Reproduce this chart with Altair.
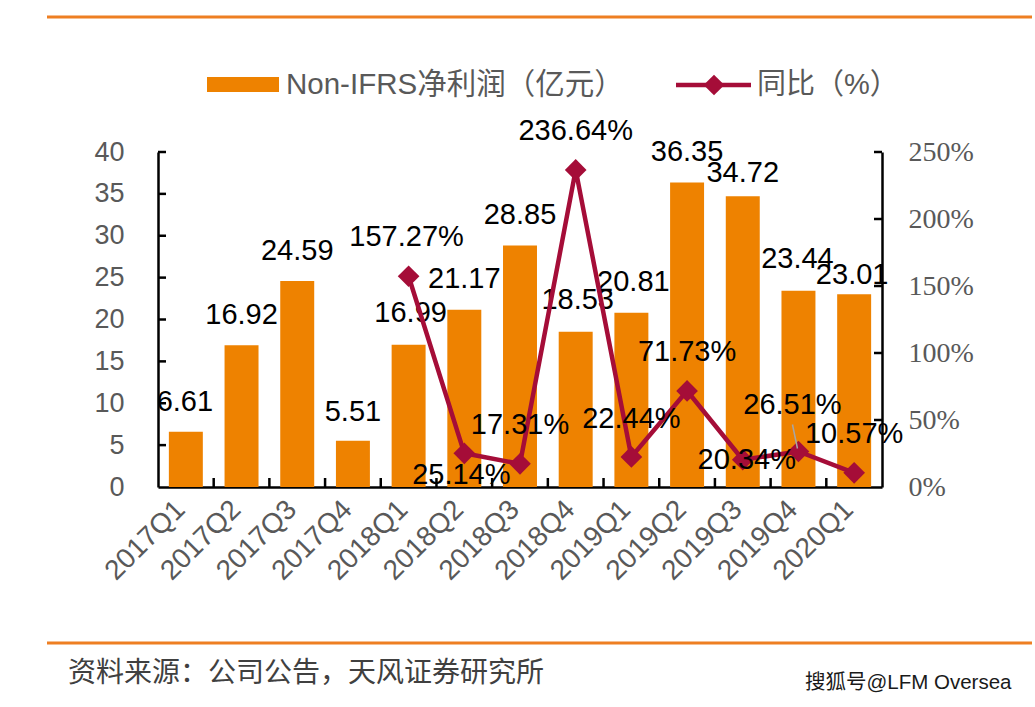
import altair as alt
import pandas as pd

# ---- data -------------------------------------------------------------
quarters = ["2017Q1", "2017Q2", "2017Q3", "2017Q4", "2018Q1", "2018Q2", "2018Q3",
            "2018Q4", "2019Q1", "2019Q2", "2019Q3", "2019Q4", "2020Q1"]
profit = [6.61, 16.92, 24.59, 5.51, 16.99, 21.17, 28.85, 18.53, 20.81, 36.35, 34.72, 23.44, 23.01]

yoy_quarters = ["2018Q1", "2018Q2", "2018Q3", "2018Q4", "2019Q1", "2019Q2", "2019Q3", "2019Q4", "2020Q1"]
yoy = [157.27, 25.14, 17.31, 236.64, 22.44, 71.73, 20.34, 26.51, 10.57]

left_ticks = [0, 5, 10, 15, 20, 25, 30, 35, 40]
right_ticks = [0, 50, 100, 150, 200, 250]

# label nudges in pixels (relative to bar top / line point)
bar_label_dx = [-1, 0, 0, 0, 2, 0, 0, 2, 2, 0, 0, -1, -2]
bar_label_dy = [-32, -32, -32, -31, -34, -33, -32, -34, -33, -33, -25, -34, -21]
yoy_label_dx = [-2, -3, 0, 0, 0, 0, 4, -6, 0]
yoy_label_dy = [-41, 20, -41, -41, -40, -41, -2, -48, -41]

# ---- styling ----------------------------------------------------------
ORANGE = "#EE8200"
RULE_ORANGE = "#EE7F22"
RED = "#A50D38"
GRAY = "#595959"
SANS = "Liberation Sans, Noto Sans CJK SC"
SERIF = "Liberation Serif, DejaVu Serif"

W, H = 724, 335
STEP = W / len(quarters)
PAD_IN = 0.39

bar_df = pd.DataFrame({"q": quarters, "profit": profit,
                       "label": [f"{v:.2f}" for v in profit]})
yoy_df = pd.DataFrame({"q": yoy_quarters, "yoy": yoy,
                       "label": [f"{v:.2f}%" for v in yoy]})
one = pd.DataFrame({"k": [0]})

x_scale = alt.Scale(domain=quarters, paddingInner=PAD_IN, paddingOuter=PAD_IN / 2)
left_scale = alt.Scale(domain=[0, 40], nice=False, zero=True)
right_scale = alt.Scale(domain=[0, 250], nice=False, zero=True)

x_axis = alt.Axis(title=None, labelAngle=-45, labelFont=SANS, labelFontSize=28,
                  labelColor=GRAY, domainColor="black", domainWidth=2.5,
                  labelAlign="right", labelBaseline="middle", labelOffset=-5,
                  ticks=False, labelPadding=18, grid=False)
left_axis = alt.Axis(title=None, values=left_ticks, grid=False, ticks=False,
                     labelFont=SANS, labelFontSize=27, labelColor=GRAY,
                     domainColor="black", domainWidth=2.5, labelPadding=34)
right_axis = alt.Axis(title=None, orient="right", values=right_ticks, grid=False,
                      ticks=False, labelFont=SERIF, labelFontSize=28,
                      labelColor=GRAY, labelExpr="datum.value + '%'",
                      domainColor="black", domainWidth=2.5, labelPadding=26)


def xq():
    return alt.X("q:N", scale=x_scale, sort=quarters, axis=x_axis)


def yl(field):
    return alt.Y(field, scale=left_scale, axis=left_axis)


def yr(field):
    return alt.Y(field, scale=right_scale, axis=right_axis)


# ---- left axis: profit bars -------------------------------------------
bars = alt.Chart(bar_df).mark_bar(color=ORANGE).encode(x=xq(), y=yl("profit:Q"))

bar_label_layers = [
    alt.Chart(bar_df).transform_filter(alt.datum.q == q).mark_text(
        font=SANS, fontSize=29, color="black", baseline="middle", align="center",
        dx=dx, dy=dy + 2,
    ).encode(x=xq(), y=yl("profit:Q"), text="label:N")
    for q, dx, dy in zip(quarters, bar_label_dx, bar_label_dy)
]

left_tick_marks = alt.Chart(pd.DataFrame({"v": left_ticks[1:]})).mark_rule(
    color="black", strokeWidth=2.5
).encode(y=yl("v:Q"), x=alt.value(0), x2=alt.value(8))

bottom_tick_marks = alt.Chart(pd.DataFrame({"q": quarters[1:]})).mark_rule(
    color="black", strokeWidth=2.5, xOffset=-STEP / 2
).encode(x=xq(), y=alt.value(H - 9), y2=alt.value(H))

left_layer = alt.layer(bars, *bar_label_layers, left_tick_marks, bottom_tick_marks)

# ---- right axis: year-on-year line ------------------------------------
line = alt.Chart(yoy_df).mark_line(color=RED, strokeWidth=4.5).encode(x=xq(), y=yr("yoy:Q"))

points = alt.Chart(yoy_df).mark_point(
    shape="diamond", filled=True, size=470, color=RED, opacity=1
).encode(x=xq(), y=yr("yoy:Q"))

yoy_label_layers = [
    alt.Chart(yoy_df).transform_filter(alt.datum.q == q).mark_text(
        font=SANS, fontSize=29, color="black", baseline="middle", align="center",
        dx=dx, dy=dy + 2,
    ).encode(x=xq(), y=yr("yoy:Q"), text="label:N")
    for q, dx, dy in zip(yoy_quarters, yoy_label_dx, yoy_label_dy)
]

right_tick_marks = alt.Chart(pd.DataFrame({"v": right_ticks[1:]})).mark_rule(
    color="black", strokeWidth=2.5
).encode(y=yr("v:Q"), x=alt.value(W - 8), x2=alt.value(W))

# short leader from the 2019Q4 label down to its marker
i_lead = yoy_quarters.index("2019Q4")
lead_x = STEP * (quarters.index("2019Q4") + 0.5)
lead_y = H - yoy[i_lead] / 250 * H
leader = alt.Chart(one).mark_rule(color="#A6A6A6", strokeWidth=1.5).encode(
    x=alt.value(lead_x - 6), x2=alt.value(lead_x - 1),
    y=alt.value(lead_y - 27), y2=alt.value(lead_y - 3),
)

right_layer = alt.layer(line, points, *yoy_label_layers, right_tick_marks, leader)

# ---- legend, frame rules and footer -----------------------------------
legend_bar = alt.Chart(one).mark_rect(color=ORANGE).encode(
    x=alt.value(49), x2=alt.value(121), y=alt.value(-75), y2=alt.value(-60))
legend_bar_text = alt.Chart(one).mark_text(
    font=SANS, fontSize=29.5, color=GRAY, align="left", baseline="middle"
).encode(x=alt.value(128), y=alt.value(-67), text=alt.value("Non-IFRS净利润（亿元）"))
legend_line = alt.Chart(one).mark_rule(color=RED, strokeWidth=4.5).encode(
    x=alt.value(518), x2=alt.value(593), y=alt.value(-67))
legend_diamond = alt.Chart(one).mark_point(
    shape="diamond", filled=True, size=430, color=RED, opacity=1
).encode(x=alt.value(556), y=alt.value(-67))
legend_line_text = alt.Chart(one).mark_text(
    font=SANS, fontSize=29, color=GRAY, align="left", baseline="middle"
).encode(x=alt.value(599), y=alt.value(-67), text=alt.value("同比（%）"))

top_rule = alt.Chart(one).mark_rule(color=RULE_ORANGE, strokeWidth=3).encode(
    x=alt.value(-111), x2=alt.value(874), y=alt.value(-135))
bottom_rule = alt.Chart(one).mark_rule(color=RULE_ORANGE, strokeWidth=3).encode(
    x=alt.value(-111), x2=alt.value(874), y=alt.value(491))

source = alt.Chart(one).mark_text(
    font="Noto Sans CJK SC", fontSize=28, color="#404040", align="left", baseline="middle"
).encode(x=alt.value(-90), y=alt.value(522), text=alt.value("资料来源：公司公告，天风证券研究所"))
watermark = alt.Chart(one).mark_text(
    font=SANS, fontSize=20.5, color="#1a1a1a", align="left", baseline="middle"
).encode(x=alt.value(647), y=alt.value(531), text=alt.value("搜狐号@LFM Oversea"))

decor = alt.layer(legend_bar, legend_bar_text, legend_line, legend_diamond,
                  legend_line_text, top_rule, bottom_rule, source, watermark)

chart = alt.layer(left_layer, right_layer, decor).resolve_scale(
    y="independent"
).properties(
    width=W, height=H,
    autosize=alt.AutoSizeParams(type="none"),
    padding={"left": 158, "top": 152, "right": 153, "bottom": 220},
    background="white",
).configure_view(stroke=None)

chart.save("out.html", embed_options={"renderer": "svg", "actions": False})
